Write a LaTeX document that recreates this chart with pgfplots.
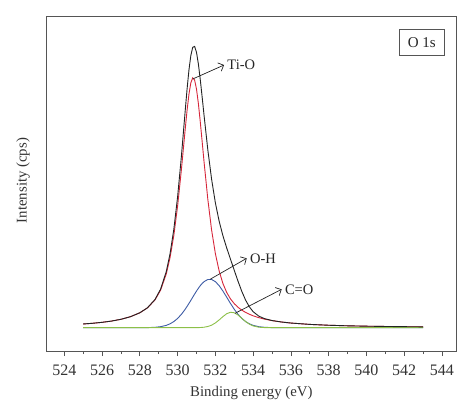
\documentclass[border=0pt]{standalone}
\usepackage{fontspec}
\setmainfont{Liberation Serif}
\usepackage{pgfplots}
\usepackage{pgfplotstable}
\pgfplotsset{compat=1.18}
\usetikzlibrary{arrows.meta}

\definecolor{cblack}{RGB}{35,35,35}
\definecolor{cred}{RGB}{214,38,58}
\definecolor{cblue}{RGB}{62,92,165}
\definecolor{cgreen}{RGB}{140,192,72}
\definecolor{axisgray}{RGB}{85,85,85}

% O 1s fit: envelope and the three components (arbitrary intensity units)
\pgfplotstableread{
x      red     blue    green   total
525.0  27.71   24.00   24.00   27.71
525.5  28.42   24.00   24.00   28.42
526.0  29.36   24.00   24.00   29.36
526.5  30.63   24.00   24.00   30.63
527.0  32.40   24.00   24.00   32.40
527.5  34.98   24.00   24.00   34.98
528.0  38.90   24.02   24.00   38.92
528.4  43.79   24.09   24.00   43.88
528.8  51.72   24.39   24.00   52.11
529.1  61.60   25.01   24.00   62.61
529.4  77.82   26.34   24.00   80.16
529.6  94.13   27.88   24.00   98.01
529.8  116.38  30.13   24.00   122.51
530.0  145.67  33.26   24.00   154.93
530.2  181.93  37.37   24.00   195.30
530.4  222.09  42.42   24.00   240.51
530.5  241.16  45.25   24.00   262.41
530.6  257.39  48.25   24.00   281.64
530.7  268.83  51.35   24.00   296.18
530.8  273.86  54.50   24.00   304.36
530.9  271.67  57.61   24.00   305.28
531.0  262.65  60.63   24.06   299.34
531.1  248.10  63.46   24.10   287.66
531.2  229.95  66.03   24.18   272.16
531.3  210.02  68.25   24.30   254.57
531.4  189.84  70.06   24.49   236.39
531.6  152.40  72.22   25.19   201.81
531.8  121.65  72.22   26.54   172.41
532.0  98.05   70.06   28.74   148.85
532.2  80.67   66.03   31.75   130.45
532.4  68.16   60.63   35.12   115.91
532.6  59.23   54.50   37.99   103.72
532.8  52.79   48.25   39.44   92.48
533.0  48.03   42.42   38.94   81.39
533.2  44.41   37.37   36.68   70.46
533.4  41.58   33.26   33.44   60.28
533.6  39.31   30.13   30.16   51.60
533.8  37.44   27.88   27.53   44.85
534.0  35.90   26.34   25.77   40.01
534.3  34.04   25.01   24.49   35.54
534.6  32.57   24.39   24.10   33.06
535.0  31.07   24.09   24.01   31.17
535.5  29.68   24.01   24.00   29.69
536.0  28.66   24.00   24.00   28.66
537.0  27.30   24.00   24.00   27.30
538.0  26.45   24.00   24.00   26.45
539.0  25.89   24.00   24.00   25.89
540.0  25.51   24.00   24.00   25.51
541.0  25.23   24.00   24.00   25.23
542.0  25.02   24.00   24.00   25.02
543.0  24.86   24.00   24.00   24.86
}\fitdata

\begin{document}
\begin{tikzpicture}
\path[use as bounding box] (-46pt,-65.3pt) rectangle (428pt,351.7pt);
\begin{axis}[
  at={(0,0)}, anchor=south west,
  width=410.7pt, height=335.7pt, scale only axis,
  xmin=523.03, xmax=544.78, ymin=0, ymax=335.7,
  xtick={524,526,...,544},
  minor xtick={525,527,...,543},
  ytick=\empty,
  xtick pos=bottom,
  tick align=outside,
  major tick length=4.5pt, minor tick length=2.5pt,
  axis line style={axisgray, line width=0.9pt},
  every tick/.style={axisgray, line width=0.8pt},
  /pgf/number format/assume math mode=true,
  /pgf/number format/1000 sep={},
  tick label style={font=\fontsize{16}{18}\selectfont, text=black!80},
  xticklabel style={yshift=-5pt},
  xlabel={Binding energy (eV)},
  ylabel={Intensity (cps)},
  label style={font=\fontsize{14.8}{17}\selectfont, text=black!80},
  xlabel style={at={(axis description cs:0.5,-0.124)}, anchor=center},
  ylabel style={at={(axis description cs:-0.056,0.51)}, anchor=center, rotate=0},
  clip=false,
]
\addplot[cred, line width=0.9pt] table[x=x, y=red] {\fitdata};
\addplot[cblue, line width=0.9pt] table[x=x, y=blue] {\fitdata};
\addplot[cgreen, line width=0.9pt] table[x=x, y=green] {\fitdata};
\addplot[cblack, line width=0.9pt] table[x=x, y=total] {\fitdata};

% peak assignments
\draw[cblack, line width=0.7pt, -{Straight Barb[length=4.5pt, width=9pt]}]
  (axis cs:530.8,272.7) -- (axis cs:532.46,286.7)
  node[anchor=west, inner sep=1pt, xshift=2pt, text=black!85, font=\fontsize{14.5}{17}\selectfont] {Ti-O};
\draw[cblack, line width=0.7pt, -{Straight Barb[length=4.5pt, width=9pt]}]
  (axis cs:531.72,72.4) -- (axis cs:533.66,93.4)
  node[anchor=west, inner sep=1pt, xshift=2pt, text=black!85, font=\fontsize{14.5}{17}\selectfont] {O-H};
\draw[cblack, line width=0.7pt, -{Straight Barb[length=4.5pt, width=9pt]}]
  (axis cs:533.04,38.4) -- (axis cs:535.51,62.4)
  node[anchor=west, inner sep=1pt, xshift=2pt, text=black!85, font=\fontsize{14.5}{17}\selectfont] {C=O};

\node[draw=axisgray, line width=0.8pt, minimum width=45pt, minimum height=25.7pt,
      inner sep=0pt, text=black!85, font=\fontsize{15}{17}\selectfont]
  at (axis cs:542.93,309.5) {O 1s};
\end{axis}
\end{tikzpicture}
\end{document}
